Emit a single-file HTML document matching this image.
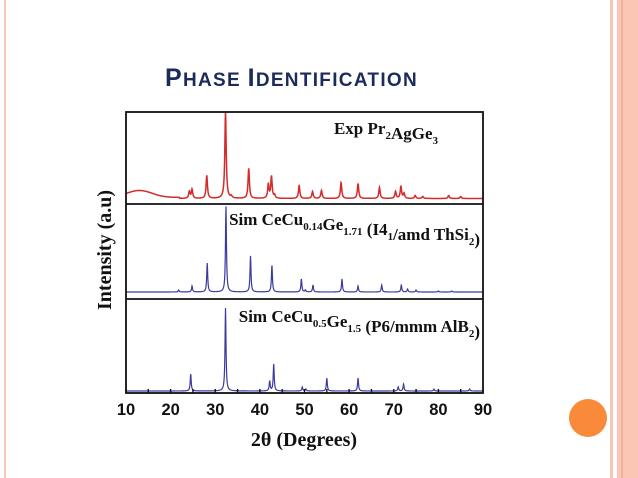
<!DOCTYPE html>
<html><head><meta charset="utf-8"><style>
html,body{margin:0;padding:0;background:#fff}
body{width:638px;height:478px;position:relative;overflow:hidden;font-family:"Liberation Sans",sans-serif}
</style></head><body>
<div style="position:absolute;left:4px;top:0;width:2px;height:478px;background:#f4c9bb"></div>
<div style="position:absolute;left:610px;top:0;width:3px;height:478px;background:#f8c6b4"></div>
<div style="position:absolute;left:617px;top:0;width:21px;height:478px;background:#fbc6b3"></div>
<div style="position:absolute;left:621px;top:0;width:2px;height:478px;background:#efb39d"></div>
<div style="position:absolute;left:569px;top:399px;width:38px;height:38px;border-radius:50%;background:#f98a3a"></div>
<div style="position:absolute;left:165px;top:64px;color:#1d2b5a;font-weight:bold;font-size:19px;letter-spacing:1.3px;white-space:nowrap"><span style="font-size:25px">P</span>HASE <span style="font-size:25px">I</span>DENTIFICATION</div>
<svg width="638" height="478" style="position:absolute;left:0;top:0" xmlns="http://www.w3.org/2000/svg">
<g id="plot"></g>
</svg>
<script>
const xTicks=[10,20,30,40,50,60,70,80,90];
const expPos=[24.2,24.8,28.1,32.3,33.6,37.5,41.9,42.6,43.3,48.8,51.8,53.8,58.2,62.0,66.8,70.4,71.6,72.3,74.8,76.5,82.3,85.0];
const expInt=[7,9,23,87,2,30,14,22,3,13,7,8,16,15,11,7,12,5,3,2,3,2];
const sim1Pos=[21.8,24.8,28.2,32.4,37.9,42.7,49.3,50.2,51.9,58.4,62.0,67.3,71.7,73.1,75.0,80.0,83.0];
const sim1Int=[2,6,29,86,36,27,13,2,7,13,6,7,7,3,2,1,1];
const sim2Pos=[24.5,32.3,42.2,43.1,49.5,50.3,55.0,62.0,71.0,72.2,79.0,87.0];
const sim2Int=[17,83,10,27,4,2,13,13,4,7,2,2];
const NS='http://www.w3.org/2000/svg';
const g=document.getElementById('plot');
const L=126,R=483,T=112,B=393;
const xs=v=>L+(v-10)*(R-L)/80;
function mk(t,a){const e=document.createElementNS(NS,t);for(const k in a)e.setAttribute(k,a[k]);g.appendChild(e);return e;}
function trace(pos,ints,base,gam,color,name,bg,sw){
  let d='';
  for(let px=L;px<=R;px+=0.25){
    const v=10+(px-L)*80/(R-L);
    let y=bg?bg(v):0;
    for(let i=0;i<pos.length;i++){const u=(v-pos[i])/gam;y+=ints[i]/(1+u*u);}
    d+=(d?'L':'M')+px.toFixed(2)+','+(base-y).toFixed(2);
  }
  const p=mk('path',{d:d,fill:'none',stroke:color,'stroke-width':sw});
  
  
}
trace(expPos,expInt,199,0.18,'#d42a2a','exp-pr2agge3-trace',v=>7*Math.exp(-Math.pow((v-13)/4,2))+(v<22?1.5:0.5),1.5);
trace(sim1Pos,sim1Int,292,0.13,'#3a3aa0','sim-thsi2-trace',null,1.2);
trace(sim2Pos,sim2Int,391,0.13,'#3a3aa0','sim-alb2-trace',null,1.2);
let f=mk('rect',{x:L,y:T,width:R-L,height:B-T,fill:'none',stroke:'#111','stroke-width':1.8});

[204,299].forEach((y,i)=>{const l=mk('line',{x1:L,x2:R,y1:y,y2:y,stroke:'#111','stroke-width':1.8});
});
for(let v=10;v<=90;v+=5){const l=mk('line',{x1:xs(v),x2:xs(v),y1:B,y2:B-4,stroke:'#111','stroke-width':1.4});
}
xTicks.forEach(v=>{const t=mk('text',{x:xs(v),y:415,'text-anchor':'middle','font-family':'Liberation Sans, sans-serif','font-weight':'bold','font-size':16.5,fill:'#111'});t.textContent=v;
});
function lab(x,y,html,name){const t=mk('text',{x:x,y:y,'text-anchor':'end','font-family':'Liberation Serif, serif','font-weight':'bold','font-size':17,fill:'#111'});t.innerHTML=html;
}
const sub=s=>'<tspan dy="5" font-size="11">'+s+'</tspan><tspan dy="-5"></tspan>';
lab(438,134,'Exp Pr'+sub('2')+'AgGe'+sub('3'),'exp-label');
lab(480,225,'Sim CeCu'+sub('0.14')+'Ge'+sub('1.71')+' (I4'+sub('1')+'/amd ThSi'+sub('2')+')','sim-thsi2-label');
lab(480,322,'Sim CeCu'+sub('0.5')+'Ge'+sub('1.5')+' (P6/mmm AlB'+sub('2')+')','sim-alb2-label');
let xt=mk('text',{x:304,y:446,'text-anchor':'middle','font-family':'Liberation Serif, serif','font-weight':'bold','font-size':20,fill:'#111'});xt.textContent='2θ (Degrees)';

let yt=mk('text',{x:0,y:0,transform:'translate(111,250) rotate(-90)','text-anchor':'middle','font-family':'Liberation Serif, serif','font-weight':'bold','font-size':20,fill:'#111'});yt.textContent='Intensity (a.u)';

</script>
</body></html>
